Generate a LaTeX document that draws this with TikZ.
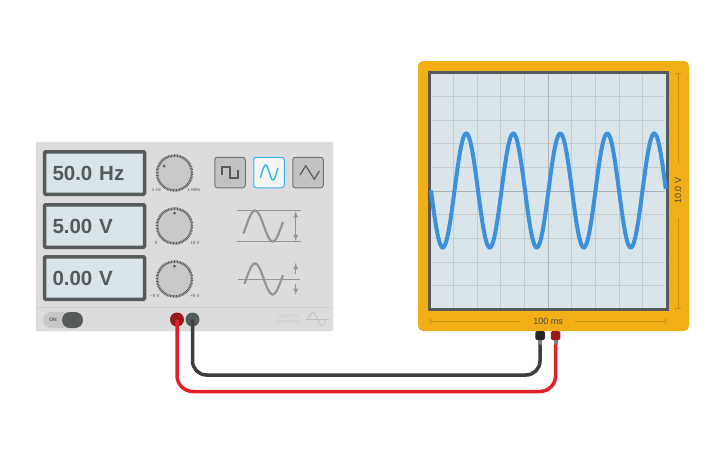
\documentclass[tikz,border=0pt]{standalone}
\usepackage{fontspec}
\setmainfont{Liberation Sans}
\usepackage{tikz}

\definecolor{panel}{HTML}{DCDCDC}
\definecolor{screen}{HTML}{DAE5EA}
\definecolor{frame}{HTML}{555A5A}
\definecolor{amber}{HTML}{F2AE15}
\definecolor{tick}{HTML}{C8900F}
\definecolor{trace}{HTML}{3B91DC}
\definecolor{symbol}{HTML}{959595}
\definecolor{redwire}{HTML}{E3202A}
\definecolor{blackwire}{HTML}{3C3F40}
\definecolor{gridline}{HTML}{C2CDD0}
\definecolor{gridaxis}{HTML}{A9B3B7}
\definecolor{selected}{HTML}{35B5E5}

\tikzset{
    display/.style={draw=frame, fill=screen, line width=3.5pt, rounded corners=1pt,
        minimum width=100pt, minimum height=42.5pt, inner xsep=8pt, text width=84pt,
        text=frame, font=\fontsize{20.5}{22}\selectfont\bfseries},
    knob/.style={circle, draw=frame, fill=black!21, line width=2.5pt,
        dash pattern=on 0.8pt off 0.7pt, minimum size=35pt, inner sep=0pt},
    knobdot/.style={circle, fill=frame, minimum size=3pt, inner sep=0pt},
    tiny/.style={text=frame, font=\fontsize{4.5}{5}\selectfont, inner sep=0pt},
    wavebtn/.style={draw=black!55, fill=black!24, line width=1pt, rounded corners=2.5pt,
        minimum size=30.5pt, inner sep=0pt},
    wire/.style={line width=3.5pt, rounded corners=14pt},
    terminal/.style={circle, minimum size=14pt, inner sep=0pt},
    probe/.style={minimum width=9.5pt, minimum height=9pt, inner sep=0pt, rounded corners=1.5pt},
    probetip/.style={fill=black!50, minimum width=4pt, minimum height=5pt, inner sep=0pt},
    scalelabel/.style={text=black!72, font=\fontsize{9}{9}\selectfont, inner sep=0pt},
}

\begin{document}
\begin{tikzpicture}[x=1pt, y=-1pt]
    \useasboundingbox (0,0) rectangle (725,453);
    \def\px{430}
    \def\py{73}
    \def\div{23.65}

    % function generator
    \draw[black!15, fill=panel, rounded corners=2pt] (36,142) rectangle (333,331);
    \draw[black!18, line width=0.8pt] (36,307)--(333,307);

    \foreach \n/\t/\y in {freq/50.0 Hz/173, ampl/5.00 V/226, offs/0.00 V/278} {
        \node[display] (\n) at (94.5,\y) {\t};
    }
    \foreach \n/\y in {freqknob/173, amplknob/226, offsknob/279} {
        \node[knob] (\n) at (174.5,\y) {};
    }
    \node[knobdot] (freqdot) at (164,166) {};
    \node[knobdot] (ampldot) at (174.5,213) {};
    \node[knobdot] (offsdot) at (174.5,266) {};

    \node[tiny] (freqmin) at (156.5,190) {1 Hz};
    \node[tiny] (freqmax) at (194,190) {1 MHz};
    \node[tiny] (amplmin) at (156,243) {0};
    \node[tiny] (amplmax) at (195,243) {10 V};
    \node[tiny] (offsmin) at (155,296) {−5 V};
    \node[tiny] (offsmax) at (195,296) {+5 V};

    % wave buttons
    \node[wavebtn] (squarebtn) at (230,172.5) {};
    \node[wavebtn, draw=selected, fill=black!4] (sinebtn) at (269,172.5) {};
    \node[wavebtn] (trianglebtn) at (308,172.5) {};
    \draw[frame, line width=1.2pt] (222,175)--(222,167)--(230,167)--(230,178)--(238,178)--(238,170);
    \draw[selected, line width=1.4pt, domain=-0.62:0.6, samples=40]
        plot ({269.3+14.6*\x}, {172.5+7.5*sin(360*\x)});
    \draw[frame, line width=1.2pt] (300,175)--(305.7,165.7)--(314.3,179.3)--(319.3,171);

    % amplitude symbol
    \draw[symbol, line width=1pt] (237,210)--(301,210);
    \draw[symbol, line width=1pt] (237,241.5)--(301,241.5);
    \draw[symbol, line width=2.2pt, domain=-0.58:0.54, samples=40]
        plot ({263.85+35.4*\x}, {226+15.5*sin(360*\x)});
    \draw[symbol, line width=1.2pt, <->, >=latex] (295.7,211)--(295.7,241);

    % offset symbol
    \draw[symbol, line width=1pt] (238,279)--(300,279);
    \draw[symbol, line width=2.2pt, domain=-0.55:0.54, samples=40]
        plot ({263.85+35.4*\x}, {279+15.5*sin(360*\x)});
    \draw[symbol, line width=1.2pt, ->, >=latex] (295.7,274)--(295.7,263);
    \draw[symbol, line width=1.2pt, ->, >=latex] (295.7,284)--(295.7,295);

    % power switch
    \draw[fill=black!22, draw=none, rounded corners=8pt] (43,312) rectangle (83,328);
    \draw[fill=frame, draw=none, rounded corners=8pt] (62,312) rectangle (83,328);
    \node[tiny, font=\fontsize{5}{5}\selectfont\bfseries] (power) at (53,320) {ON};

    % maker mark
    \node[tiny, black!22, align=center, font=\fontsize{4}{6}\selectfont] (maker) at (288,319.5) {FUNCTION\\GENERATOR};
    \draw[black!25, line width=0.7pt] (306,319)--(329,319);
    \draw[black!25, line width=0.7pt, domain=-0.5:0.5, samples=30]
        plot ({317.5+18*\x}, {319+6.5*sin(360*\x)});

    % oscilloscope
    \draw[draw=none, fill=amber, rounded corners=5pt] (418,61) rectangle (689,331);
    \draw[frame, fill=screen, line width=3pt] (429.7,72) rectangle (667,309.5);

    \foreach \i in {1,...,9} {
        \draw[gridline, line width=1pt] ({\px+\div*\i},{\py+0.6})--({\px+\div*\i},307.9);
        \draw[gridline, line width=1pt] ({\px+1.3},{\py+\div*\i})--(665.4,{\py+\div*\i});
    }
    \draw[gridaxis, line width=1.1pt] ({\px+\div*5},{\py+0.6})--({\px+\div*5},307.9);
    \draw[gridaxis, line width=1.1pt] ({\px+1.3},{\py+\div*5})--(665.4,{\py+\div*5});

    \draw[trace, line width=4pt, domain=0:5, samples=300]
        plot ({431+47*\x}, {190.5+57*sin(360*\x)});

    \node[scalelabel] (timebase) at (548,321) {100 ms};
    \node[scalelabel, rotate=90] (voltbase) at (678,190.5) {10.0 V};
    \draw[tick, line width=0.6pt, |-] (430,321)--(520,321);
    \draw[tick, line width=0.6pt, -|] (575,321)--(666,321);
    \draw[tick, line width=0.6pt, |-] (678,73)--(678,163);
    \draw[tick, line width=0.6pt, -|] (678,218)--(678,309);

    % terminals, probes and leads
    \node[terminal, fill=red!55!black!90] (redterm) at (177,319.5) {};
    \node[terminal, fill=frame] (blackterm) at (192.5,319.5) {};
    \node[probetip] (blacktip) at (540,342) {};
    \node[probetip] (redtip) at (555.7,342) {};
    \node[probe, fill=black!85] (blackprobe) at (540,335.5) {};
    \node[probe, fill=red!55!black!90] (redprobe) at (555.7,335.5) {};

    \draw[wire, blackwire] (blackterm.center)--(blackterm |- 0,375)--(blacktip |- 0,375)--(blacktip.south);
    \draw[wire, redwire, rounded corners=16pt] (redterm.center)--(redterm |- 0,391.5)--(redtip |- 0,391.5)--(redtip.south);
\end{tikzpicture}
\end{document}
